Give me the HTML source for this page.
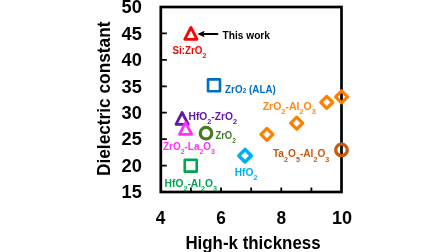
<!DOCTYPE html><html><head><meta charset="utf-8"><title>chart</title><style>html,body{margin:0;padding:0;background:#fff}svg{display:block}</style></head><body><svg width="448" height="252" viewBox="0 0 448 252">
<rect x="0" y="0" width="448" height="252" fill="#fff"/>
<rect x="160.8" y="7.0" width="180.70" height="185.0" fill="none" stroke="#000" stroke-width="2.7"/>
<path d="M160.8 165.57h6M160.8 139.14h6M160.8 112.71h6M160.8 86.29h6M160.8 59.86h6M160.8 33.43h6M190.92 192.0v-4.5M221.03 192.0v-4.5M251.15 192.0v-4.5M281.27 192.0v-4.5M311.38 192.0v-4.5" stroke="#000" stroke-width="1.8" fill="none"/>
<text id="t1" transform="translate(141.90 198.30) scale(1.0134 1)" font-size="18.0" fill="#000" text-anchor="end" font-family="'Liberation Sans', sans-serif" font-weight="bold">15</text>
<text id="t2" transform="translate(141.90 171.87) scale(1.0134 1)" font-size="18.0" fill="#000" text-anchor="end" font-family="'Liberation Sans', sans-serif" font-weight="bold">20</text>
<text id="t3" transform="translate(141.90 145.44) scale(1.0134 1)" font-size="18.0" fill="#000" text-anchor="end" font-family="'Liberation Sans', sans-serif" font-weight="bold">25</text>
<text id="t4" transform="translate(141.90 119.01) scale(1.0134 1)" font-size="18.0" fill="#000" text-anchor="end" font-family="'Liberation Sans', sans-serif" font-weight="bold">30</text>
<text id="t5" transform="translate(141.90 92.59) scale(1.0134 1)" font-size="18.0" fill="#000" text-anchor="end" font-family="'Liberation Sans', sans-serif" font-weight="bold">35</text>
<text id="t6" transform="translate(141.90 66.16) scale(1.0134 1)" font-size="18.0" fill="#000" text-anchor="end" font-family="'Liberation Sans', sans-serif" font-weight="bold">40</text>
<text id="t7" transform="translate(141.90 39.73) scale(1.0134 1)" font-size="18.0" fill="#000" text-anchor="end" font-family="'Liberation Sans', sans-serif" font-weight="bold">45</text>
<text id="t8" transform="translate(141.90 13.30) scale(1.0134 1)" font-size="18.0" fill="#000" text-anchor="end" font-family="'Liberation Sans', sans-serif" font-weight="bold">50</text>
<text id="t9" transform="translate(160.50 224.00) scale(0.9585 1)" font-size="18.0" fill="#000" text-anchor="middle" font-family="'Liberation Sans', sans-serif" font-weight="bold">4</text>
<text id="t10" transform="translate(221.10 224.00) scale(0.9585 1)" font-size="18.0" fill="#000" text-anchor="middle" font-family="'Liberation Sans', sans-serif" font-weight="bold">6</text>
<text id="t11" transform="translate(281.30 224.00) scale(0.9585 1)" font-size="18.0" fill="#000" text-anchor="middle" font-family="'Liberation Sans', sans-serif" font-weight="bold">8</text>
<text id="t12" transform="translate(342.00 224.00) scale(1.0084 1)" font-size="18.0" fill="#000" text-anchor="middle" font-family="'Liberation Sans', sans-serif" font-weight="bold">10</text>
<text id="t13" transform="translate(185.40 248.50) scale(0.9602 1)" font-size="17.6" fill="#000" text-anchor="start" font-family="'Liberation Sans', sans-serif" font-weight="bold">High-k thickness</text>
<text id="t14" transform="translate(109.70 176.00) rotate(-90) scale(0.9599 1)" font-size="18.0" fill="#000" text-anchor="start" font-family="'Liberation Sans', sans-serif" font-weight="bold">Dielectric constant</text>
<text id="t15" transform="translate(222.60 39.00) scale(0.9232 1)" font-size="11.0" fill="#000" text-anchor="start" font-family="'Liberation Sans', sans-serif" font-weight="bold">This work</text>
<text id="t16" transform="translate(172.50 53.75) scale(0.9604 1)" font-size="10.2" fill="#ff0000" text-anchor="start" font-family="'Liberation Sans', sans-serif" font-weight="bold">Si:ZrO<tspan font-size="7.2" dy="4.4">2</tspan></text>
<text id="t17" transform="translate(225.10 92.50) scale(0.9623 1)" font-size="10.2" fill="#0070c0" text-anchor="start" font-family="'Liberation Sans', sans-serif" font-weight="bold">ZrO<tspan font-size="7.2" dy="0.6">2</tspan><tspan dy="-0.6"> (ALA)</tspan></text>
<text id="t18" transform="translate(188.50 119.50) scale(1.0062 1)" font-size="10.2" fill="#6418a6" text-anchor="start" font-family="'Liberation Sans', sans-serif" font-weight="bold">HfO<tspan font-size="7.2" dy="4.4">2</tspan><tspan dy="-4.4">-ZrO</tspan><tspan font-size="7.2" dy="4.4">2</tspan></text>
<text id="t19" transform="translate(215.40 139.00) scale(0.9266 1)" font-size="10.2" fill="#437a22" text-anchor="start" font-family="'Liberation Sans', sans-serif" font-weight="bold">ZrO<tspan font-size="7.2" dy="4.4">2</tspan></text>
<text id="t20" transform="translate(163.00 149.60) scale(0.9748 1)" font-size="10.2" fill="#ff30f8" text-anchor="start" font-family="'Liberation Sans', sans-serif" font-weight="bold">ZrO<tspan font-size="7.2" dy="4.4">2</tspan><tspan dy="-4.4">-La</tspan><tspan font-size="7.2" dy="4.4">2</tspan><tspan dy="-4.4">O</tspan><tspan font-size="7.2" dy="4.4">3</tspan></text>
<text id="t21" transform="translate(164.60 186.80) scale(1.0054 1)" font-size="10.2" fill="#00a651" text-anchor="start" font-family="'Liberation Sans', sans-serif" font-weight="bold">HfO<tspan font-size="7.2" dy="4.4">2</tspan><tspan dy="-4.4">-Al</tspan><tspan font-size="7.2" dy="4.4">2</tspan><tspan dy="-4.4">O</tspan><tspan font-size="7.2" dy="4.4">3</tspan></text>
<text id="t22" transform="translate(234.70 175.60) scale(1.0006 1)" font-size="10.2" fill="#00b0f0" text-anchor="start" font-family="'Liberation Sans', sans-serif" font-weight="bold">HfO<tspan font-size="7.2" dy="4.4">2</tspan></text>
<text id="t23" transform="translate(262.70 109.70) scale(1.0279 1)" font-size="10.2" fill="#ff8812" text-anchor="start" font-family="'Liberation Sans', sans-serif" font-weight="bold">ZrO<tspan font-size="7.2" dy="4.4">2</tspan><tspan dy="-4.4">-Al</tspan><tspan font-size="7.2" dy="4.4">2</tspan><tspan dy="-4.4">O</tspan><tspan font-size="7.2" dy="4.4">3</tspan></text>
<text id="t24" transform="translate(272.90 157.10) scale(0.9963 1)" font-size="10.2" fill="#c55a11" text-anchor="start" font-family="'Liberation Sans', sans-serif" font-weight="bold">Ta<tspan font-size="7.2" dy="4.4">2</tspan><tspan dy="-4.4">O</tspan><tspan font-size="7.2" dy="4.4">5</tspan><tspan dy="-4.4">-Al</tspan><tspan font-size="7.2" dy="4.4">2</tspan><tspan dy="-4.4">O</tspan><tspan font-size="7.2" dy="4.4">3</tspan></text>
<path d="M182.10 112.50L188.25 124.30H175.95Z" fill="none" stroke="#6418a6" stroke-width="2.8" stroke-linejoin="round"/>
<path d="M185.60 122.60L191.75 134.40H179.45Z" fill="none" stroke="#ff30f8" stroke-width="2.8" stroke-linejoin="round"/>
<path d="M190.90 27.50L197.05 39.30H184.75Z" fill="none" stroke="#ff0000" stroke-width="2.8" stroke-linejoin="round"/>
<rect x="208.02" y="79.33" width="11.95" height="11.95" fill="none" stroke="#0070c0" stroke-width="2.65" stroke-linejoin="round"/>
<rect x="184.77" y="159.72" width="11.95" height="11.95" fill="none" stroke="#00a651" stroke-width="2.65" stroke-linejoin="round"/>
<circle cx="206.00" cy="133.20" r="5.75" fill="none" stroke="#437a22" stroke-width="3.2"/>
<circle cx="341.50" cy="149.90" r="5.80" fill="none" stroke="#c55a11" stroke-width="3.3"/>
<path d="M245.05 149.40L251.35 155.70L245.05 162.00L238.75 155.70Z" fill="none" stroke="#00b0f0" stroke-width="3.5" stroke-linejoin="round"/>
<path d="M266.90 128.40L272.90 134.40L266.90 140.40L260.90 134.40Z" fill="none" stroke="#ff8000" stroke-width="3.2" stroke-linejoin="round"/>
<path d="M296.70 117.20L302.70 123.20L296.70 129.20L290.70 123.20Z" fill="none" stroke="#ff8000" stroke-width="3.2" stroke-linejoin="round"/>
<path d="M326.75 96.40L332.75 102.40L326.75 108.40L320.75 102.40Z" fill="none" stroke="#ff8000" stroke-width="3.2" stroke-linejoin="round"/>
<path d="M341.60 90.80L347.60 96.80L341.60 102.80L335.60 96.80Z" fill="none" stroke="#ff8000" stroke-width="3.2" stroke-linejoin="round"/>
<path d="M203 34.0H218.2" stroke="#000" stroke-width="2" fill="none"/>
<path d="M197.4 34.0L204.6 30.7L203.4 34.0L204.6 37.3Z" fill="#000"/>
</svg></body></html>
